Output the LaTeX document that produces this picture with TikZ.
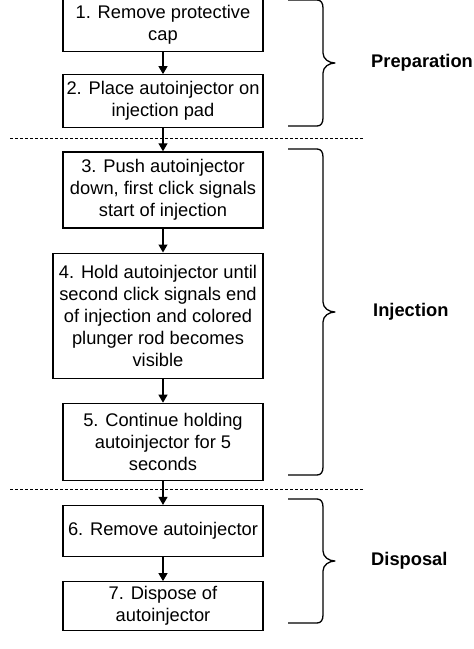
\documentclass[tikz,border=0pt]{standalone}
\usepackage{fontspec}
\setmainfont{Liberation Sans}
\usetikzlibrary{positioning,arrows.meta}

\begin{document}
\begin{tikzpicture}[x=1pt,y=-1pt,
  font=\fontsize{18.3}{22}\selectfont,
  node distance=24pt,
  stepbox/.style={draw,line width=1.2pt,align=center,minimum width=200pt,
    inner xsep=2pt,inner ysep=3pt},
  flow/.style={line width=1.2pt,-{Triangle[length=8pt,width=9pt]}},
  divider/.style={line width=1pt,dash pattern=on 3pt off 2pt},
  curly/.style={line width=1.3pt,line join=round},
  phase/.style={font=\fontsize{18.3}{22}\selectfont\bfseries,anchor=west,inner sep=0pt}]
\useasboundingbox (0,0) rectangle (474,649);
\node[stepbox,minimum height=53pt] (step-1) at (163,25) {1. Remove protective\\cap};
\node[stepbox,minimum height=53pt] (step-2) [below=22pt of step-1] {2. Place autoinjector on\\injection pad};
\node[stepbox,minimum height=76pt] (step-3) [below=23pt of step-2] {3. Push autoinjector\\down, first click signals\\start of injection};
\node[stepbox,minimum height=125pt,minimum width=210pt] (step-4) [below=of step-3.south east,anchor=north east] {4. Hold autoinjector until\\second click signals end\\of injection and colored\\plunger rod becomes\\visible};
\node[stepbox,minimum height=77pt] (step-5) [below=of step-4.south east,anchor=north east] {5. Continue holding\\autoinjector for 5\\seconds};
\node[stepbox,minimum height=51pt] (step-6) [below=of step-5] {6. Remove autoinjector};
\node[stepbox,minimum height=49pt] (step-7) [below=of step-6] {7. Dispose of\\autoinjector};
\draw[flow] (step-1) -- (step-2);
\draw[flow] (step-2) -- (step-3);
\draw[flow] (step-3) -- (step-3 |- step-4.north);
\draw[flow] (step-4.south -| step-5) -- (step-5);
\draw[flow] (step-5) -- (step-6);
\draw[flow] (step-6) -- (step-7);
% phase separators
\draw[divider] (10,138) -- (363,138);
\draw[divider] (10,489) -- (363,489);
% braces
\draw[curly] (288,0) -- (317,0) .. controls (321,0) and (323,3) .. (323,8)
  -- (323,53) .. controls (323,59) and (329,63) .. (335,63)
  .. controls (329,63) and (323,67) .. (323,73)
  -- (323,118) .. controls (323,123) and (321,126) .. (317,126) -- (288,126);
\draw[curly] (288,149) -- (317,149) .. controls (321,149) and (323,152) .. (323,157)
  -- (323,302) .. controls (323,308) and (329,312) .. (335,312)
  .. controls (329,312) and (323,316) .. (323,322)
  -- (323,467) .. controls (323,472) and (321,475) .. (317,475) -- (288,475);
\draw[curly] (288,499) -- (317,499) .. controls (321,499) and (323,502) .. (323,507)
  -- (323,551) .. controls (323,557) and (329,561) .. (335,561)
  .. controls (329,561) and (323,565) .. (323,571)
  -- (323,615) .. controls (323,620) and (321,623) .. (317,623) -- (288,623);
\node[phase] (preparation) at (371,63) {Preparation};
\node[phase] (injection) at (373,312) {Injection};
\node[phase] (disposal) at (371,561) {Disposal};
\end{tikzpicture}
\end{document}
